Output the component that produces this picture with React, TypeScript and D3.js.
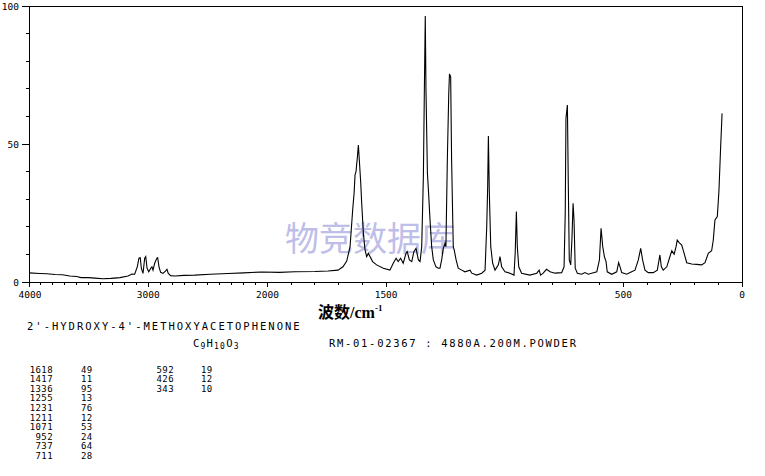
import * as d3 from 'd3';

// Raman spectrum (wavenumber cm-1, intensity %)
const wavenumbers: number[] = [
  4000, 3908, 3850, 3782, 3720, 3656, 3600, 3564, 3500, 3447, 3380, 3312, 3237, 3170, 3136, 3114, 3092, 3078, 3067, 3058, 3044, 3030, 3021,
  3010, 2996, 2979, 2969, 2960, 2946, 2929, 2921, 2910, 2896, 2876, 2854, 2843, 2832, 2812, 2778, 2700, 2610,
  2480, 2331, 2200, 2052, 1950, 1885, 1800, 1745, 1703, 1682, 1666, 1652, 1641, 1635, 1631, 1627, 1621, 1617,
  1613, 1607, 1603, 1596, 1589, 1582, 1575, 1568, 1557, 1540, 1512, 1484, 1470, 1458, 1449, 1439, 1428, 1416,
  1411, 1402, 1392, 1383, 1374, 1364, 1357, 1350, 1343, 1339, 1335, 1332, 1326, 1321, 1315, 1308, 1301, 1290,
  1280, 1273, 1266, 1259, 1252, 1248, 1242, 1236, 1233, 1228, 1224, 1217, 1213, 1205, 1196, 1181, 1168, 1146,
  1139, 1118, 1097, 1083, 1076, 1072, 1069, 1065, 1059, 1051, 1041, 1027, 1020, 1013, 999, 978, 961, 956, 951,
  947, 941, 929, 894, 865, 855, 849, 838, 824, 809, 788, 760, 750, 745, 742, 736, 732, 728, 722, 717, 712, 708,
  703, 694, 676, 662, 648, 612, 601, 594, 587, 580, 573, 568, 549, 528, 520, 514, 507, 486, 465, 451, 437, 427,
  419, 409, 395, 374, 357, 346, 340, 332, 317, 306, 296, 286, 278, 273, 264, 254, 244, 233, 212, 191, 170, 156,
  142, 128, 121, 114, 104, 97, 90, 84,
];
const intensities: number[] = [
  3.3, 3.1, 3.0, 2.7, 2.6, 2.2, 2.0, 1.6, 1.6, 1.4, 1.2, 1.3, 1.6, 2.2, 2.9, 2.8, 5.5, 8.6, 8.8, 5.0, 3.1, 8.6, 9.2,
  5.0, 3.7, 5.0, 5.5, 4.3, 6.8, 8.6, 8.8, 5.5, 3.5, 3.1, 4.0, 4.6, 3.1, 2.3, 2.2, 2.4, 2.5,
  2.8, 3.1, 3.3, 3.6, 3.5, 3.7, 3.8, 4.0, 4.3, 5.5, 7.6, 12.8, 26.1, 32.2, 38.8, 40.0, 45.4, 49.6,
  44.2, 35.9, 28.6, 17.8, 11.6, 9.2, 10.4, 9.2, 7.4, 6.2, 5.0, 4.3, 6.8, 8.6, 7.4, 8.6, 6.8, 10.4,
  11.0, 8.0, 7.4, 11.0, 12.2, 8.0, 7.4, 12.8, 38.2, 68.4, 96.4, 69.6, 39.5, 32.2, 22.5, 12.8, 8.0, 5.5,
  5.0, 5.0, 8.0, 12.2, 14.0, 12.8, 44.2, 68.4, 75.4, 74.4, 44.2, 12.8, 11.6, 8.0, 5.0, 4.3, 3.7, 4.3,
  3.2, 2.5, 3.2, 4.3, 20.0, 34.5, 52.9, 32.2, 12.8, 6.8, 4.3, 6.2, 9.2, 5.5, 3.7, 3.2, 2.5, 10.4, 25.5,
  12.8, 5.5, 3.2, 2.5, 3.2, 4.3, 2.5, 3.2, 4.6, 3.7, 3.2, 3.4, 5.5, 25.0, 59.3, 64.1, 34.5, 8.0, 6.2, 15.2, 28.5, 22.5,
  5.0, 3.2, 2.8, 3.4, 2.8, 3.7, 8.0, 19.5, 12.8, 9.2, 7.4, 3.7, 2.8, 3.7, 7.0, 5.5, 3.4, 2.8, 3.7, 4.3, 8.0, 12.2,
  8.0, 4.3, 3.4, 3.4, 4.3, 9.8, 5.5, 4.3, 5.5, 8.6, 11.3, 10.1, 12.8, 15.2, 14.2, 13.4, 10.4, 7.0, 6.5, 6.4, 6.2, 7.0,
  10.4, 11.3, 15.2, 22.5, 23.7, 33.3, 49.0, 61.1,
];

const xTickLabels = [4000, 3000, 2000, 1500, 500, 0];
const xMinorTicks = d3.range(0, 4001, 100);
const yTickLabels = [0, 50, 100];
const yMinorTicks = d3.range(0, 101, 10);

const peakWn = ['1618', '1417', '1336', '1255', '1231', '1211', '1071', '952', '737', '711', '592', '426', '343'];
const peakInt = ['49', '11', '95', '13', '76', '12', '53', '24', '64', '28', '19', '12', '10'];

const compound = "2'-HYDROXY-4'-METHOXYACETOPHENONE";
const sampleInfo = 'RM-01-02367 : 4880A.200M.POWDER';
const watermark = '物竞数据库';

const W = 765;
const H = 476;
const mono = '"DejaVu Sans Mono", "Liberation Mono", monospace';

export default function App() {
  const x = d3.scaleLinear().domain([4000, 2000, 0]).range([29, 267.5, 742]);
  const y = d3.scaleLinear().domain([0, 100]).range([282, 6]);

  const pts: [number, number][] = wavenumbers.map((w, i) => [w, intensities[i]]);
  const line = d3.line<[number, number]>()
    .x((d) => x(d[0]))
    .y((d) => y(d[1]));

  const rowH = 9.6;

  return (
    <svg width={W} height={H} style={{ position: 'absolute', left: 0, top: 0, background: '#fff' }}>
      <rect x={0} y={0} width={W} height={H} fill="#fff" />

      {/* watermark */}
      <text x={285} y={251} fontFamily='"Noto Sans CJK SC", sans-serif' fontSize={34} fill="#bebee8">
        {watermark}
      </text>

      {/* frame */}
      <g stroke="#000" strokeWidth={1} shapeRendering="crispEdges" fill="none">
        <line x1={22} x2={742} y1={y(100)} y2={y(100)} />
        <line x1={x(4000)} x2={x(4000)} y1={y(100)} y2={y(0)} />
        <line x1={742} x2={742} y1={y(100)} y2={y(0)} />
        <line x1={x(4000)} x2={742} y1={y(0)} y2={y(0)} />
        {yMinorTicks.map((v) => (
          <line key={'ym' + v} x1={yTickLabels.includes(v) ? 22 : 26} x2={29} y1={y(v)} y2={y(v)} />
        ))}
        {xMinorTicks.map((v) => (
          <line key={'xm' + v} x1={x(v)} x2={x(v)} y1={y(0)} y2={y(0) + (xTickLabels.includes(v) ? 5 : 3)} />
        ))}
      </g>

      {/* tick labels */}
      <g fontFamily={mono} fontSize={9.5} fill="#000">
        {yTickLabels.map((v) => (
          <text key={'yl' + v} x={19} y={y(v) + 3.5} textAnchor="end">{v}</text>
        ))}
        {xTickLabels.map((v) => (
          <text key={'xl' + v} x={x(v) + (v === 4000 ? 1 : 0)} y={298} textAnchor="middle">{v}</text>
        ))}
      </g>

      {/* spectrum */}
      <path d={line(pts) || ''} fill="none" stroke="#000" strokeWidth={1.1} />

      {/* axis title */}
      <text x={318} y={318} fontSize={16} fontWeight="bold" fill="#000">
        <tspan fontFamily='"Noto Sans CJK SC", sans-serif'>波数</tspan>
        <tspan fontFamily='"Liberation Serif", serif'>/cm</tspan>
        <tspan fontFamily='"Liberation Serif", serif' fontSize={9} dy={-7}>-1</tspan>
      </text>

      {/* compound info */}
      <g fontFamily={mono} fontSize={10.5} fill="#000">
        <text x={27} y={330} letterSpacing={2.0}>{compound}</text>
        <text x={193} y={347} letterSpacing={1.2}>
          C<tspan fontSize={8} dy={2}>9</tspan>
          <tspan dy={-2}>H</tspan>
          <tspan fontSize={8} dy={2}>10</tspan>
          <tspan dy={-2}>O</tspan>
          <tspan fontSize={8} dy={2}>3</tspan>
        </text>
        <text x={329} y={347} letterSpacing={1.7}>{sampleInfo}</text>
      </g>

      {/* peak table */}
      <g fontFamily={mono} fontSize={9} fill="#000" letterSpacing={0.4}>
        {peakWn.map((w, i) => {
          const col = i < 10 ? 0 : 1;
          const row = i < 10 ? i : i - 10;
          const yy = 372.5 + row * rowH;
          return (
            <g key={'pk' + i}>
              <text x={col === 0 ? 53 : 174} y={yy} textAnchor="end">{w}</text>
              <text x={col === 0 ? 81 : 201} y={yy}>{peakInt[i]}</text>
            </g>
          );
        })}
      </g>
    </svg>
  );
}
